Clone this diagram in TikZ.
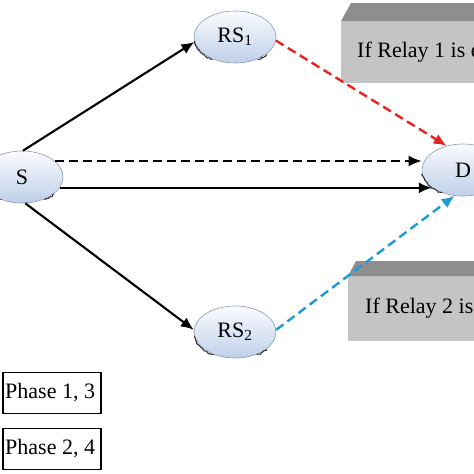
\documentclass[tikz,border=0pt]{standalone}
\usepackage{fontspec}
\setmainfont{Liberation Serif}
\usetikzlibrary{shapes.geometric,arrows.meta,decorations.pathmorphing,calc}
\definecolor{bubtop}{HTML}{FAFBFE}
\definecolor{bubbot}{HTML}{BFD0EA}
\definecolor{bubline}{HTML}{8C9BB2}
\definecolor{relred}{HTML}{E8231F}
\definecolor{relblue}{HTML}{1E9AD6}
\definecolor{boxfront}{HTML}{C4C4C4}
\definecolor{boxtop}{HTML}{8E8E8E}
\tikzset{
  bubble/.style={ellipse, draw=bubline, line width=0.6pt, top color=bubtop, bottom color=bubbot,
    minimum width=82pt, minimum height=52pt, inner sep=0pt, font=\fontsize{22}{26}\selectfont},
  rough/.style={draw=black!80, line width=1pt, decorate,
    decoration={random steps, segment length=1.5pt, amplitude=0.8pt}},
  link/.style={line width=2.1pt, -{Latex[length=13pt,width=11pt]}},
  dsh/.style={dash pattern=on 9pt off 5pt},
  phasebox/.style={draw=black, line width=1.2pt, minimum width=98pt, minimum height=41pt,
    inner sep=0pt, font=\fontsize{22}{26}\selectfont},
  boxtext/.style={anchor=west, inner sep=0pt, font=\fontsize{22}{26}\selectfont}
}
\begin{document}
\begin{tikzpicture}[x=1pt,y=-1pt]
\clip (0,0) rectangle (474,474);
\fill[white] (0,0) rectangle (474,474);
% gray boxes
\fill[boxfront] (341,21) rectangle (480,83);
\fill[boxtop] (341,21) -- (351,3) -- (480,3) -- (480,21) -- cycle;
\node[boxtext] (t1) at (357,52) {If Relay 1 is e};
\fill[boxfront] (348,276) rectangle (480,341);
\fill[boxtop] (348,276) -- (356,261) -- (480,261) -- (480,276) -- cycle;
\node[boxtext] (t2) at (365,308) {If Relay 2 is};
% nodes
\node[bubble] (S) at (22,177) {S};
\node[bubble] (RS1) at (235,37) {RS\textsubscript{1}};
\node[bubble] (RS2) at (235,332) {RS\textsubscript{2}};
\node[bubble] (D) at (463,170) {D};
\foreach \n in {S,RS1,RS2,D}{
  \begin{scope}
    \clip ($(\n.west)+(-3,4)$) rectangle ($(\n.south east)+(3,4)$);
    \draw[rough] ($(\n.center)+(0,1)$) ellipse [x radius=41, y radius=26];
  \end{scope}
}
% connectors
\draw[link] (S.88) -- (RS1.187);
\draw[link] (S.277) -- (RS2.177);
\draw[link,dsh] (S.26) -- (S.26 -| D.west);
\draw[link] (S.-16) -- (S.-16 -| D.209);
\draw[link,dsh,relred,line width=2.4pt] (RS1.-5) -- (D.124);
\draw[link,dsh,relblue,line width=2.4pt] (RS2.3) -- (D.252);
% phase legend
\node[phasebox] (p1) at (52,393) {};
\node[boxtext] at (5,393) {Phase 1, 3};
\node[phasebox] (p2) at (52,449) {};
\node[boxtext] at (5,449) {Phase 2, 4};
\end{tikzpicture}
\end{document}
